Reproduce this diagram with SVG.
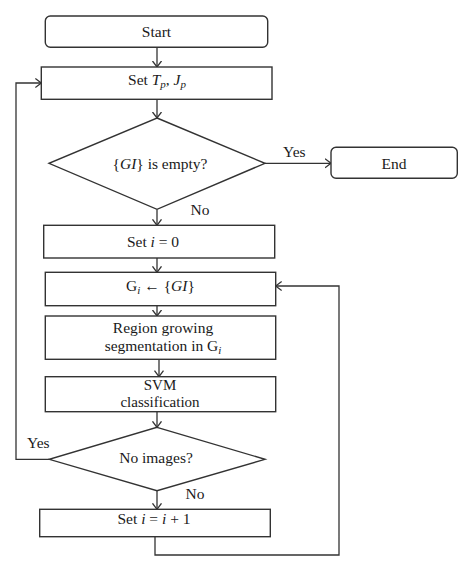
<svg xmlns="http://www.w3.org/2000/svg" width="474" height="572" viewBox="0 0 474 572">
<defs>
<marker id="ah" markerUnits="userSpaceOnUse" markerWidth="10" markerHeight="12" refX="6.5" refY="5" orient="auto" viewBox="0 0 10 12">
<path d="M0.5,0.5 L6.5,5 L0.5,9.5" fill="none" stroke="#333" stroke-width="1.3"/>
</marker>
<style>
.box{fill:#fff;stroke:#333;stroke-width:1.4}
.ln{fill:none;stroke:#333;stroke-width:1.3}
.arr{fill:none;stroke:#333;stroke-width:1.3;marker-end:url(#ah)}
text{font-family:"Liberation Serif","Times New Roman",serif;font-size:15.5px;fill:#1a1a1a}
.c{text-anchor:middle}
.it{font-style:italic}
.sub{font-size:11px;font-style:italic}
.sm{font-size:15px}
</style>
</defs>
<rect width="474" height="572" fill="#fff"/>
<g id="connectors">
<line class="arr" x1="157" y1="47.5" x2="157" y2="67"/>
<line class="arr" x1="157" y1="99.5" x2="157" y2="118"/>
<line class="arr" x1="265" y1="163.3" x2="331" y2="163.3"/>
<line class="arr" x1="157" y1="209.5" x2="157" y2="225.3"/>
<line class="arr" x1="157" y1="258" x2="157" y2="272.3"/>
<line class="arr" x1="157" y1="305.7" x2="157" y2="316"/>
<line class="arr" x1="159" y1="359.3" x2="159" y2="376.7"/>
<line class="arr" x1="157" y1="411.7" x2="157" y2="427.3"/>
<line class="arr" x1="157" y1="490.7" x2="157" y2="509.3"/>
<polyline class="arr" points="49.3,459.3 16,459.3 16,83 41.3,83"/>
<polyline class="arr" points="155,536.7 155,555 339,555 339,286 275.7,286"/>
<text x="283" y="157">Yes</text>
<text x="190.5" y="215">No</text>
<text x="27" y="448">Yes</text>
<text x="185.5" y="498.5">No</text>
</g>
<g id="start">
<rect class="box" x="45.3" y="16" width="222.4" height="31.3" rx="5"/>
<text class="c" x="156.5" y="37">Start</text>
</g>
<g id="set-tp">
<rect class="box" x="41.3" y="67" width="230.7" height="32.3"/>
<text class="c" x="157" y="85">Set <tspan class="it">T</tspan><tspan class="sub" dy="3">p</tspan><tspan dy="-3">, </tspan><tspan class="it">J</tspan><tspan class="sub" dy="3">p</tspan></text>
</g>
<g id="gi-empty">
<polygon class="box" points="157,118 265,163.3 157,209.3 49,163.3"/>
<text class="c" x="160" y="169">{<tspan class="it">GI</tspan>} is empty?</text>
</g>
<g id="end">
<rect class="box" x="331" y="147.3" width="126.3" height="31" rx="5"/>
<text class="c" x="394" y="168.5">End</text>
</g>
<g id="set-i0">
<rect class="box" x="43.7" y="225.3" width="231" height="32.7"/>
<text class="c" x="153" y="246.5">Set <tspan class="it">i</tspan> = 0</text>
</g>
<g id="gi-assign">
<rect class="box" x="45.3" y="272.3" width="230.4" height="33.4"/>
<text class="c" x="160.5" y="291">G<tspan class="sub" dy="3">i</tspan><tspan dy="-3"> ← {</tspan><tspan class="it">GI</tspan>}</text>
</g>
<g id="region">
<rect class="box" x="45.3" y="316" width="230.4" height="43.3"/>
<text class="c" x="163" y="333">Region growing</text>
<text class="c" x="163" y="351">segmentation in G<tspan class="sub" dy="3">i</tspan></text>
</g>
<g id="svm">
<rect class="box" x="45.3" y="376.7" width="230.4" height="35"/>
<text class="c sm" x="160" y="390">SVM</text>
<text class="c sm" x="160" y="406.5">classification</text>
</g>
<g id="no-images">
<polygon class="box" points="157,427.3 265,459.3 157,490.7 49.3,459.3"/>
<text class="c" x="156" y="463">No images?</text>
</g>
<g id="set-inc">
<rect class="box" x="39.7" y="509.3" width="230.6" height="27.4"/>
<text class="c" x="154" y="523.5">Set <tspan class="it">i</tspan> = <tspan class="it">i</tspan> + 1</text>
</g>
</svg>
